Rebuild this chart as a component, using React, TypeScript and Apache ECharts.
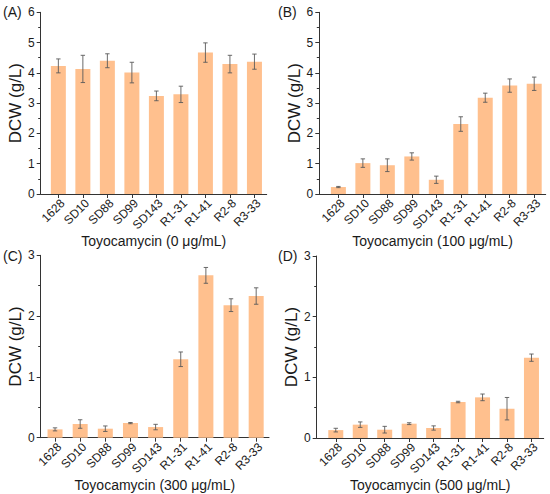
import React, { useEffect, useRef } from "react";
import * as echarts from "echarts";

const categories = ["1628", "SD10", "SD88", "SD99", "SD143", "R1-31", "R1-41", "R2-8", "R3-33"];

const valuesA = [4.23, 4.13, 4.4, 4.01, 3.24, 3.29, 4.67, 4.29, 4.37];
const errorsA = [0.23, 0.45, 0.23, 0.34, 0.16, 0.27, 0.32, 0.29, 0.25];

const valuesB = [0.23, 1.02, 0.95, 1.24, 0.47, 2.31, 3.18, 3.58, 3.64];
const errorsB = [0.02, 0.14, 0.21, 0.12, 0.12, 0.24, 0.15, 0.22, 0.22];

const valuesC = [0.137, 0.225, 0.148, 0.24, 0.175, 1.29, 2.67, 2.18, 2.33];
const errorsC = [0.025, 0.07, 0.045, 0.01, 0.045, 0.12, 0.13, 0.105, 0.135];

const valuesD = [0.13, 0.22, 0.137, 0.236, 0.165, 0.593, 0.67, 0.483, 1.324];
const errorsD = [0.03, 0.045, 0.055, 0.015, 0.035, 0.012, 0.055, 0.185, 0.06];

const panelLabels = ["(A)", "(B)", "(C)", "(D)"];
const xNames = [
  "Toyocamycin (0 μg/mL)",
  "Toyocamycin (100 μg/mL)",
  "Toyocamycin (300 μg/mL)",
  "Toyocamycin (500 μg/mL)",
];
const yMaxes = [6, 6, 3, 3];
const yName = "DCW (g/L)";

const FONT = "'Liberation Sans', Arial, sans-serif";
const TEXT = "#1a1a1a";
const AXIS = "#333333";
const BAR = "#FFC08E";
const ERR = "#5a5a5a";

export default function App() {
  const ref = useRef<HTMLDivElement>(null);

  useEffect(() => {
    if (!ref.current) return;
    const chart = echarts.init(ref.current, undefined, { renderer: "svg" });

    const layouts = [
      { left: 40.7, top: 12.3, width: 226, height: 181.7, xmin: -0.72, xmax: 8.5, lx: 3, ly: 13 },
      { left: 319.3, top: 12.3, width: 226.4, height: 181.7, xmin: -0.78, xmax: 8.47, lx: 278, ly: 13 },
      { left: 40.7, top: 255.3, width: 228.3, height: 182.4, xmin: -0.57, xmax: 8.51, lx: 3, ly: 257 },
      { left: 316.7, top: 256, width: 227, height: 182, xmin: -0.78, xmax: 8.5, lx: 278, ly: 257 },
    ];
    const vals = [valuesA, valuesB, valuesC, valuesD];
    const errs = [errorsA, errorsB, errorsC, errorsD];
    const idx = categories.map((_, i) => i);

    const grid: any[] = [];
    const xAxis: any[] = [];
    const yAxis: any[] = [];
    const series: any[] = [];
    const graphic: any[] = [];

    layouts.forEach((L, p) => {
      grid.push({
        left: L.left,
        top: L.top,
        width: L.width,
        height: L.height,
        containLabel: false,
        outerBoundsMode: "none",
      });
      xAxis.push({
        type: "value",
        gridIndex: p,
        min: L.xmin,
        max: L.xmax,
        name: xNames[p],
        nameLocation: "middle",
        nameGap: 33,
        nameTextStyle: { fontFamily: FONT, fontSize: 14, color: TEXT },
        axisLine: { show: true, onZero: false, lineStyle: { color: AXIS, width: 1 } },
        axisTick: { show: true, inside: false, length: 4, customValues: idx, lineStyle: { color: AXIS } },
        axisLabel: {
          show: true,
          customValues: idx,
          rotate: 45,
          margin: 3,
          verticalAlign: "top",
          fontFamily: FONT,
          fontSize: 12,
          color: TEXT,
          formatter: (v: number) => categories[Math.round(v)] ?? "",
        },
        splitLine: { show: false },
        minorTick: { show: false },
      });
      yAxis.push({
        type: "value",
        gridIndex: p,
        min: 0,
        max: yMaxes[p],
        interval: 1,
        name: yName,
        nameLocation: "middle",
        nameGap: 14,
        nameTextStyle: { fontFamily: FONT, fontSize: 17, color: TEXT },
        axisLine: { show: true, onZero: false, lineStyle: { color: AXIS, width: 1 } },
        axisTick: { show: true, inside: false, length: 4, lineStyle: { color: AXIS } },
        minorTick: { show: true, splitNumber: 2, length: 2.5, lineStyle: { color: AXIS } },
        axisLabel: { margin: 6, fontFamily: FONT, fontSize: 12, color: TEXT },
        splitLine: { show: false },
        minorSplitLine: { show: false },
      });
      series.push({
        type: "bar",
        xAxisIndex: p,
        yAxisIndex: p,
        barWidth: 15,
        itemStyle: { color: BAR },
        data: vals[p].map((v, i) => [i, v]),
        z: 2,
      });
      series.push({
        type: "custom",
        xAxisIndex: p,
        yAxisIndex: p,
        z: 5,
        encode: { x: 0, y: 1 },
        data: vals[p].map((v, i) => [i, v, errs[p][i]]),
        renderItem: (params: any, api: any) => {
          const x = api.value(0);
          const v = api.value(1);
          const e = api.value(2);
          const t = api.coord([x, v + e]);
          const b = api.coord([x, v - e]);
          const hw = 2.2;
          const style = { stroke: ERR, lineWidth: 0.9 };
          return {
            type: "group",
            children: [
              { type: "line", shape: { x1: t[0], y1: t[1], x2: b[0], y2: b[1] }, style },
              { type: "line", shape: { x1: t[0] - hw, y1: t[1], x2: t[0] + hw, y2: t[1] }, style },
              { type: "line", shape: { x1: b[0] - hw, y1: b[1], x2: b[0] + hw, y2: b[1] }, style },
            ],
          };
        },
      });
      graphic.push({
        type: "text",
        left: L.lx,
        top: L.ly - 8,
        style: { text: panelLabels[p], font: `14px ${FONT}`, fill: TEXT },
      });
    });

    chart.setOption({
      animation: false,
      backgroundColor: "#ffffff",
      grid,
      xAxis,
      yAxis,
      series,
      graphic,
    });

    return () => chart.dispose();
  }, []);

  return (
    <div
      ref={ref}
      style={{ position: "fixed", left: 0, top: 0, width: 550, height: 494 }}
    />
  );
}
